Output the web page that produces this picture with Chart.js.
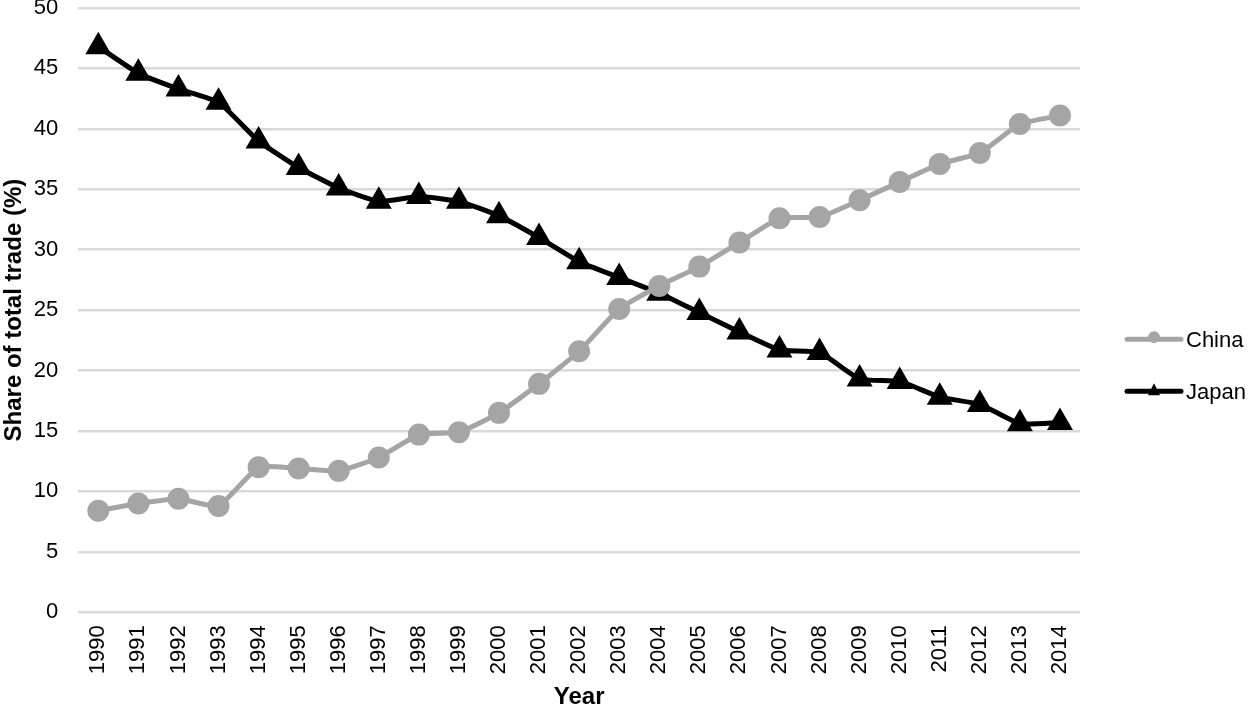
<!DOCTYPE html>
<html>
<head>
<meta charset="utf-8">
<script src="https://cdn.jsdelivr.net/npm/chart.js@4"></script>
<style>
  html, body { margin: 0; padding: 0; background: #fff; }
  #wrap { width: 1250px; height: 712px; }
</style>
</head>
<body>
<div id="wrap"><canvas id="chart" width="1250" height="712"></canvas></div>
<script>
// datos del gráfico
const years = ['1990','1991','1992','1993','1994','1995','1996','1997','1998','1999','2000','2001','2002',
  '2003','2004','2005','2006','2007','2008','2009','2010','2011','2012','2013','2014'];
const chinaShare = [8.4, 9.0, 9.4, 8.8, 12.0, 11.9, 11.7, 12.8, 14.7, 14.9, 16.5, 18.9, 21.6,
  25.1, 27.0, 28.6, 30.6, 32.6, 32.7, 34.1, 35.6, 37.1, 38.0, 40.4, 41.1];
const japanShare = [46.8, 44.6, 43.3, 42.2, 39.0, 36.8, 35.1, 34.0, 34.4, 34.0, 32.8, 31.0, 29.0,
  27.7, 26.4, 24.8, 23.2, 21.7, 21.5, 19.3, 19.1, 17.8, 17.2, 15.6, 15.7];
const yTicks = [0, 5, 10, 15, 20, 25, 30, 35, 40, 45, 50];

const FONT = '"Liberation Sans", Arial, Helvetica, sans-serif';
const GREY = '#a5a5a5';
const BLACK = '#000000';

// leyenda con línea + marcador, como en Excel
const lineLegend = {
  id: 'lineLegend',
  afterDraw(chart) {
    const ctx = chart.ctx;
    const area = chart.chartArea;
    const x0 = area.right + 47;
    const midY = (area.top + area.bottom) / 2;
    chart.data.datasets.forEach((ds, i) => {
      const y = midY + 29 + i * 52;
      ctx.save();
      ctx.strokeStyle = ds.borderColor;
      ctx.lineWidth = ds.borderWidth;
      ctx.lineCap = 'round';
      ctx.beginPath();
      ctx.moveTo(x0, y);
      ctx.lineTo(x0 + 54, y);
      ctx.stroke();
      ctx.fillStyle = ds.pointBackgroundColor;
      if (ds.pointStyle === 'triangle') {
        ctx.beginPath();
        ctx.moveTo(x0 + 27, y - 8);
        ctx.lineTo(x0 + 33, y + 4);
        ctx.lineTo(x0 + 21, y + 4);
        ctx.closePath();
        ctx.fill();
      } else {
        ctx.beginPath();
        ctx.arc(x0 + 27, y - 2, 6, 0, Math.PI * 2);
        ctx.fill();
      }
      ctx.fillStyle = '#000';
      ctx.font = '22px ' + FONT;
      ctx.textBaseline = 'middle';
      ctx.fillText(ds.label, x0 + 59, y + 2);
      ctx.restore();
    });
  }
};

const ctx = document.getElementById('chart').getContext('2d');
new Chart(ctx, {
  type: 'line',
  data: {
    labels: years,
    datasets: [
      {
        label: 'China',
        data: chinaShare,
        borderColor: GREY,
        backgroundColor: GREY,
        pointBackgroundColor: GREY,
        pointBorderColor: GREY,
        borderWidth: 5,
        pointStyle: 'circle',
        pointRadius: 8.5,
        tension: 0.15
      },
      {
        label: 'Japan',
        data: japanShare,
        borderColor: BLACK,
        backgroundColor: BLACK,
        pointBackgroundColor: BLACK,
        pointBorderColor: BLACK,
        borderWidth: 5,
        pointStyle: 'triangle',
        pointRadius: 10,
        tension: 0.15
      }
    ]
  },
  options: {
    responsive: false,
    animation: false,
    layout: { autoPadding: false, padding: { left: 0, right: 170, top: 0, bottom: 0 } },
    plugins: {
      legend: { display: false },
      tooltip: { enabled: false }
    },
    scales: {
      x: {
        offset: true,
        afterFit(axis) { axis.height += 7; },
        grid: { display: false },
        border: { display: false },
        ticks: {
          color: '#000',
          font: { family: FONT, size: 22 },
          minRotation: 90,
          maxRotation: 90,
          autoSkip: false,
          padding: 5
        },
        title: {
          display: true,
          text: 'Year',
          color: '#000',
          font: { family: FONT, size: 24, weight: 'bold' },
          padding: { top: -3, bottom: 0 }
        }
      },
      y: {
        min: 0,
        max: 50,
        afterBuildTicks(axis) { axis.ticks = yTicks.map(v => ({ value: v })); },
        afterFit(axis) { axis.paddingTop = 8; },
        grid: { color: '#d9d9d9', lineWidth: 2.5, drawTicks: true, tickLength: 17, tickColor: 'rgba(0,0,0,0)' },
        border: { display: false },
        ticks: {
          color: '#000',
          font: { family: FONT, size: 22 },
          padding: 3
        },
        title: {
          display: true,
          text: 'Share of total trade (%)',
          color: '#000',
          font: { family: FONT, size: 24, weight: 'bold' },
          padding: { top: 0, bottom: 2 }
        }
      }
    }
  },
  plugins: [lineLegend]
});
</script>
</body>
</html>
